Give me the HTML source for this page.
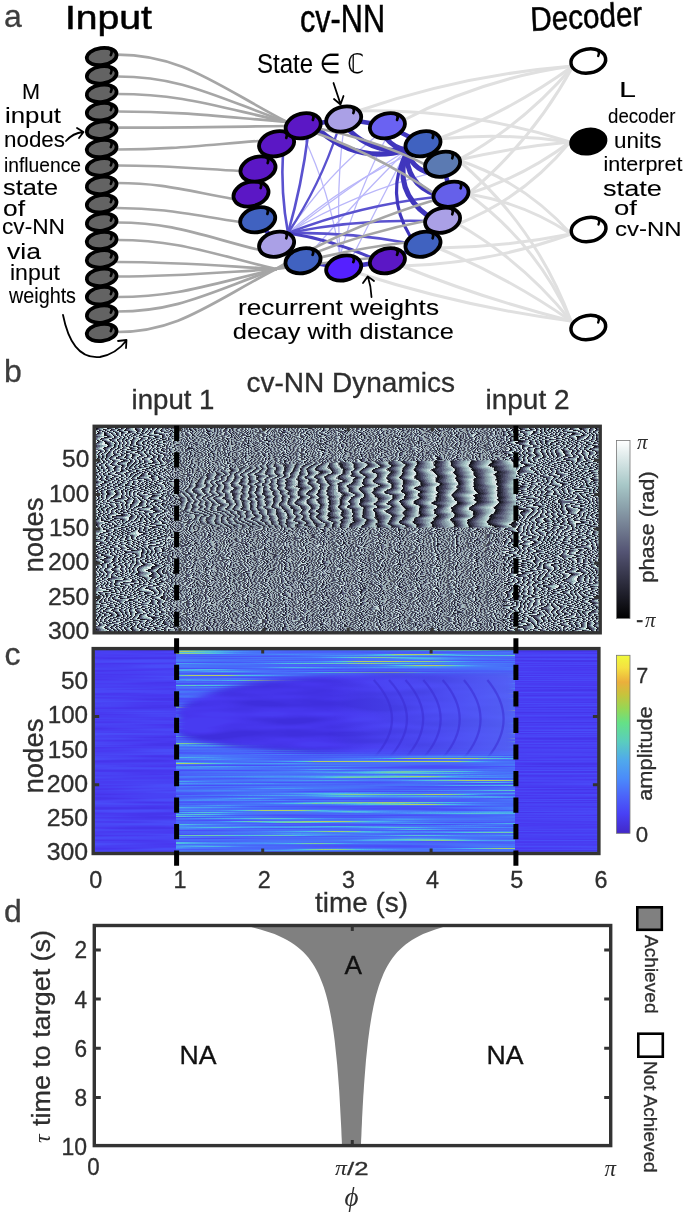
<!DOCTYPE html>
<html lang="en"><head><meta charset="utf-8"><title>cv-NN figure</title>
<style>html,body{margin:0;padding:0;background:#fff}body{width:685px;height:1213px;overflow:hidden}svg{display:block}</style>
</head><body>
<svg width="685" height="1213" viewBox="0 0 685 1213" font-family='"Liberation Sans", sans-serif'>
<rect width="685" height="1213" fill="#fff"/>
<defs>
<linearGradient id="gb" x1="0" y1="0" x2="0" y2="1"><stop offset="0%" stop-color="#ffffff"/><stop offset="6.2%" stop-color="#e9f1f1"/><stop offset="12.5%" stop-color="#d3e3e3"/><stop offset="18.8%" stop-color="#bdd5d5"/><stop offset="25%" stop-color="#a7c7c7"/><stop offset="31.2%" stop-color="#99b4b9"/><stop offset="37.5%" stop-color="#8ba1ab"/><stop offset="43.8%" stop-color="#7e8d9d"/><stop offset="50%" stop-color="#707a8f"/><stop offset="56.2%" stop-color="#626781"/><stop offset="62.5%" stop-color="#545474"/><stop offset="68.8%" stop-color="#464660"/><stop offset="75%" stop-color="#38384d"/><stop offset="81.2%" stop-color="#2a2a3a"/><stop offset="87.5%" stop-color="#1c1c27"/><stop offset="93.8%" stop-color="#0e0e13"/><stop offset="100%" stop-color="#000000"/></linearGradient>
<linearGradient id="gp" x1="0" y1="0" x2="0" y2="1"><stop offset="0%" stop-color="#f0fa3c"/><stop offset="7%" stop-color="#f5e141"/><stop offset="15%" stop-color="#ebaf3c"/><stop offset="22%" stop-color="#c8c33c"/><stop offset="30%" stop-color="#96d755"/><stop offset="38%" stop-color="#64e187"/><stop offset="48.5%" stop-color="#5acdbe"/><stop offset="58.6%" stop-color="#50aaeb"/><stop offset="69%" stop-color="#4b8cfa"/><stop offset="79%" stop-color="#4b64fa"/><stop offset="89%" stop-color="#4841f5"/><stop offset="100%" stop-color="#4228c8"/></linearGradient>
<linearGradient id="saw" x1="0" x2="1" y1="0" y2="0"><stop offset="0%" stop-color="#000000"/><stop offset="12.5%" stop-color="#1c1c27"/><stop offset="25%" stop-color="#38384d"/><stop offset="37.5%" stop-color="#545474"/><stop offset="50%" stop-color="#707a8f"/><stop offset="62.5%" stop-color="#8ba1ab"/><stop offset="75%" stop-color="#a7c7c7"/><stop offset="87.5%" stop-color="#d3e3e3"/><stop offset="100%" stop-color="#ffffff"/></linearGradient>
<pattern id="ps4" width="6" height="16" patternUnits="userSpaceOnUse"><rect width="6" height="16" fill="url(#saw)"/></pattern>
<pattern id="ps3" width="3.8" height="16" patternUnits="userSpaceOnUse"><rect width="3.8" height="16" fill="url(#saw)"/></pattern>
<filter id="dA" x="0" y="0" width="1" height="1" color-interpolation-filters="sRGB"><feTurbulence type="fractalNoise" baseFrequency="0.04 0.22" numOctaves="1" seed="2" result="n"/><feColorMatrix in="n" type="matrix" values="1 0 0 0 0 0 0 0 0 0.5 0 0 0 0 0.5 0 0 0 0 1" result="m"/><feDisplacementMap in="SourceGraphic" in2="m" scale="32" xChannelSelector="R" yChannelSelector="G"/></filter>
<filter id="dB" x="0" y="0" width="1" height="1" color-interpolation-filters="sRGB"><feTurbulence type="fractalNoise" baseFrequency="0.08 0.4" numOctaves="1" seed="7" result="n"/><feColorMatrix in="n" type="matrix" values="1 0 0 0 0 0 0 0 0 0.5 0 0 0 0 0.5 0 0 0 0 1" result="m"/><feDisplacementMap in="SourceGraphic" in2="m" scale="16" xChannelSelector="R" yChannelSelector="G"/></filter>
<filter id="wob" x="-0.02" y="-0.1" width="1.04" height="1.2" color-interpolation-filters="sRGB"><feTurbulence type="fractalNoise" baseFrequency="0.03 0.16" numOctaves="2" seed="5" result="n"/><feDisplacementMap in="SourceGraphic" in2="n" scale="16" xChannelSelector="R" yChannelSelector="G"/></filter>
<clipPath id="cb"><rect x="95.5" y="427.5" width="503.5" height="204.5"/></clipPath>
<clipPath id="cc"><rect x="94.5" y="649.5" width="503.5" height="203"/></clipPath>
<filter id="pa" x="0" y="0" width="1" height="1" color-interpolation-filters="sRGB"><feTurbulence type="fractalNoise" baseFrequency="0.008 0.3" numOctaves="2" seed="11"/><feColorMatrix type="matrix" values="1 0 0 0 0 1 0 0 0 0 1 0 0 0 0 0 0 0 0 1"/><feComponentTransfer><feFuncR type="table" tableValues="0.271 0.271 0.271 0.271 0.271 0.271 0.271 0.271 0.271 0.271 0.271 0.271 0.274 0.276 0.279 0.282 0.283 0.283 0.284 0.284 0.285 0.285 0.286 0.286 0.287 0.287 0.288 0.288 0.289 0.289 0.289 0.289 0.289 0.289 0.289 0.289 0.289 0.289 0.289 0.289 0.289"/><feFuncG type="table" tableValues="0.209 0.209 0.209 0.209 0.209 0.209 0.209 0.209 0.209 0.209 0.209 0.209 0.211 0.214 0.216 0.219 0.224 0.230 0.236 0.242 0.248 0.254 0.260 0.265 0.271 0.277 0.283 0.289 0.295 0.300 0.300 0.300 0.300 0.300 0.300 0.300 0.300 0.300 0.300 0.300 0.300"/><feFuncB type="table" tableValues="0.919 0.919 0.919 0.919 0.919 0.919 0.919 0.919 0.919 0.919 0.919 0.919 0.924 0.929 0.935 0.940 0.943 0.946 0.948 0.950 0.953 0.955 0.958 0.960 0.963 0.965 0.968 0.970 0.973 0.975 0.975 0.975 0.975 0.975 0.975 0.975 0.975 0.975 0.975 0.975 0.975"/></feComponentTransfer></filter>
<filter id="pb" x="0" y="0" width="1" height="1" color-interpolation-filters="sRGB"><feTurbulence type="fractalNoise" baseFrequency="0.004 0.6" numOctaves="3" seed="3"/><feColorMatrix type="matrix" values="1 0 0 0 0 1 0 0 0 0 1 0 0 0 0 0 0 0 0 1"/><feComponentTransfer><feFuncR type="table" tableValues="0.289 0.289 0.289 0.289 0.289 0.289 0.289 0.289 0.289 0.289 0.289 0.290 0.290 0.289 0.289 0.288 0.288 0.287 0.287 0.286 0.286 0.285 0.284 0.284 0.283 0.289 0.296 0.303 0.387 0.517 0.698 0.698 0.698 0.698 0.698 0.698 0.698 0.698 0.698 0.698 0.698"/><feFuncG type="table" tableValues="0.304 0.304 0.304 0.304 0.304 0.304 0.304 0.304 0.304 0.304 0.304 0.310 0.319 0.334 0.349 0.364 0.380 0.395 0.410 0.425 0.441 0.456 0.471 0.496 0.540 0.599 0.666 0.738 0.784 0.815 0.818 0.818 0.818 0.818 0.818 0.818 0.818 0.818 0.818 0.818 0.818"/><feFuncB type="table" tableValues="0.976 0.976 0.976 0.976 0.976 0.976 0.976 0.976 0.976 0.976 0.976 0.979 0.980 0.980 0.980 0.980 0.980 0.980 0.980 0.980 0.980 0.980 0.980 0.980 0.977 0.955 0.930 0.904 0.773 0.577 0.405 0.405 0.405 0.405 0.405 0.405 0.405 0.405 0.405 0.405 0.405"/></feComponentTransfer></filter>
<filter id="pd" x="0" y="0" width="1" height="1" color-interpolation-filters="sRGB"><feTurbulence type="fractalNoise" baseFrequency="0.012 0.1" numOctaves="2" seed="8"/><feColorMatrix type="matrix" values="1 0 0 0 0 1 0 0 0 0 1 0 0 0 0 0 0 0 0 1"/><feComponentTransfer><feFuncR type="table" tableValues="0.245 0.245 0.245 0.245 0.245 0.245 0.245 0.245 0.245 0.245 0.245 0.245 0.245 0.248 0.251 0.253 0.256 0.259 0.261 0.264 0.267 0.270 0.272 0.275 0.278 0.281 0.283 0.283 0.284 0.284 0.284 0.284 0.284 0.284 0.284 0.284 0.284 0.284 0.284 0.284 0.284"/><feFuncG type="table" tableValues="0.182 0.182 0.182 0.182 0.182 0.182 0.182 0.182 0.182 0.182 0.182 0.182 0.182 0.185 0.188 0.191 0.193 0.196 0.199 0.201 0.204 0.207 0.210 0.212 0.215 0.218 0.222 0.228 0.234 0.234 0.234 0.234 0.234 0.234 0.234 0.234 0.234 0.234 0.234 0.234 0.234"/><feFuncB type="table" tableValues="0.867 0.867 0.867 0.867 0.867 0.867 0.867 0.867 0.867 0.867 0.867 0.867 0.867 0.872 0.877 0.883 0.888 0.894 0.899 0.905 0.910 0.916 0.921 0.927 0.932 0.938 0.942 0.945 0.947 0.947 0.947 0.947 0.947 0.947 0.947 0.947 0.947 0.947 0.947 0.947 0.947"/></feComponentTransfer></filter>
<filter id="pe" x="0" y="0" width="1" height="1" color-interpolation-filters="sRGB"><feTurbulence type="fractalNoise" baseFrequency="0.004 0.8" numOctaves="2" seed="21"/><feColorMatrix type="matrix" values="1 0 0 0 0 1 0 0 0 0 1 0 0 0 0 0 0 0 0 1"/><feComponentTransfer><feFuncR type="table" tableValues="0.271 0.271 0.271 0.271 0.271 0.271 0.271 0.271 0.271 0.271 0.271 0.271 0.274 0.276 0.279 0.282 0.283 0.283 0.284 0.284 0.285 0.285 0.286 0.286 0.287 0.287 0.288 0.288 0.289 0.289 0.289 0.289 0.289 0.289 0.289 0.289 0.289 0.289 0.289 0.289 0.289"/><feFuncG type="table" tableValues="0.209 0.209 0.209 0.209 0.209 0.209 0.209 0.209 0.209 0.209 0.209 0.209 0.211 0.214 0.216 0.219 0.224 0.230 0.236 0.242 0.248 0.254 0.260 0.265 0.271 0.277 0.283 0.289 0.295 0.300 0.300 0.300 0.300 0.300 0.300 0.300 0.300 0.300 0.300 0.300 0.300"/><feFuncB type="table" tableValues="0.919 0.919 0.919 0.919 0.919 0.919 0.919 0.919 0.919 0.919 0.919 0.919 0.924 0.929 0.935 0.940 0.943 0.946 0.948 0.950 0.953 0.955 0.958 0.960 0.963 0.965 0.968 0.970 0.973 0.975 0.975 0.975 0.975 0.975 0.975 0.975 0.975 0.975 0.975 0.975 0.975"/></feComponentTransfer></filter>
</defs>
<g fill="none" stroke-linecap="round">
<g stroke="#a6a6a6" stroke-width="2.7">
<path d="M117 54.6 C 182.2 54.6 216 84.9 287 122"/>
<path d="M117 76.5 C 182.2 76.5 216 97 287 122"/>
<path d="M117 94 C 182.2 94 216 106.6 287 122"/>
<path d="M117 111.5 C 182.2 111.5 216 116.2 287 122"/>
<path d="M117 127.6 C 182.2 127.6 216 126.9 287 126"/>
<path d="M117 149.5 C 171.2 149.5 199.2 145.7 258 141"/>
<path d="M117 165.5 C 164.4 165.5 188.8 168 240 171"/>
<path d="M117 183 C 161.7 183 184.7 190.2 233 199"/>
<path d="M117 208 C 164.4 208 188.8 214.3 240 222"/>
<path d="M117 222.5 C 171.6 222.5 199.8 234.9 259 250"/>
<path d="M117 240 C 178 240 209.6 253.1 276 269"/>
<path d="M117 262 C 178 262 209.6 265.1 276 269"/>
<path d="M117 276.5 C 178 276.5 209.6 273.1 276 269"/>
<path d="M117 297 C 178 297 209.6 284.4 276 269"/>
<path d="M117 311.5 C 178 311.5 209.6 292.4 276 269"/>
<path d="M117 332 C 178 332 209.6 303.6 276 269"/>
</g>
<g stroke="#e0e0e0" stroke-width="3">
<path d="M358 111 Q 462.6 74.8 573 66"/>
<path d="M402 121 Q 482.6 78.3 573 66"/>
<path d="M438 139 Q 510.3 111.3 573 66"/>
<path d="M458 160 Q 524.4 123.8 573 66"/>
<path d="M468 194 Q 532.9 140.1 573 66"/>
<path d="M358 111 Q 466.6 108.7 570 142"/>
<path d="M438 139 Q 504.2 132.5 570 142"/>
<path d="M458 160 Q 513.4 147.1 570 142"/>
<path d="M468 194 Q 523.5 176.9 570 142"/>
<path d="M458 224 Q 524.6 197.5 570 142"/>
<path d="M458 160 Q 524.4 181.9 571 234"/>
<path d="M468 194 Q 523.8 202.8 571 234"/>
<path d="M438 248 Q 505.1 247 571 234"/>
<path d="M402 266 Q 489.1 263.8 571 234"/>
<path d="M458 160 Q 535.8 225.6 571 321"/>
<path d="M468 194 Q 536.6 243.6 571 321"/>
<path d="M458 224 Q 523.6 261.9 571 321"/>
<path d="M438 248 Q 508.3 277.5 571 321"/>
<path d="M402 266 Q 484.6 299.2 571 321"/>
<path d="M358 273 Q 462.3 306.8 571 321"/>
</g>
<path d="M343.7 119 L387.4 125.8 L423 143.8 L442.6 164.2 L451 194.2 L442.6 220.2 L423 244.2 L387.4 260.7 L343.7 268 L303 260.7 L276.6 244.2 L257.7 219.8 L251 194 L258 169 L276.6 143.8 L303.2 125.8Z" stroke="#4036bd" stroke-width="4.5" stroke-linejoin="round"/>
<g stroke="#b9b6fa" stroke-width="1.3">
<path d="M288 233 Q 327.7 173.4 379.4 133.8"/>
<path d="M288 233 Q 345.5 182.4 415 151.8"/>
<path d="M288 233 Q 355.3 192.6 434.6 172.2"/>
<path d="M407 150 Q 381.4 199 349.7 262"/>
<path d="M407 150 Q 361 195.3 309 254.7"/>
<path d="M407 150 Q 347.8 187.1 282.6 238.2"/>
<path d="M340 256 Q 329.6 190.9 303.2 135.8"/>
<path d="M340 256 Q 335.9 187.5 343.7 129"/>
<path d="M340 256 Q 357.7 190.9 387.4 135.8"/>
</g>
<g stroke="#5a52cf">
<path d="M288 233 Q 280.5 192.8 283 152" stroke-width="2.6"/>
<path d="M288 233 Q 301.9 184.8 308 135" stroke-width="2.6"/>
<path d="M288 233 Q 320.2 185 338 130" stroke-width="2.4"/>
<path d="M288 233 Q 359.6 205.3 436 197" stroke-width="2.6"/>
<path d="M288 233 Q 357.3 219 428 221" stroke-width="2.6"/>
<path d="M288 233 Q 348.5 232 408 243" stroke-width="2.6"/>
<path d="M288 233 Q 331.7 239.7 372 258" stroke-width="3.2" stroke="#4a40c4"/>
</g>
<g stroke="#4036bd">
<path d="M407 150 Q 394 148.3 386 138" stroke-width="5"/>
<path d="M407 150 Q 374.1 153.8 350 131" stroke-width="5"/>
<path d="M407 150 Q 358.4 163.9 320 131" stroke-width="5"/>
<path d="M407 150 Q 411.4 168.6 430 173" stroke-width="5"/>
<path d="M407 150 Q 404.7 183.3 436 195" stroke-width="5"/>
<path d="M407 150 Q 392.7 190.9 428 216" stroke-width="5"/>
<path d="M407 150 Q 384.5 193.8 410 236" stroke-width="3.2"/>
</g>
<g stroke="#a6a6a6" stroke-width="2.7">
<path d="M287 123 Q 370 135 432 168"/>
<path d="M287 123 Q 372 150 438 196"/>
<path d="M276 269 Q 350 225 438 199"/>
<path d="M276 269 Q 350 235 430 220"/>
<path d="M276 269 Q 340 250 410 242"/>
<path d="M276 269 Q 330 262 372 258"/>
</g>
</g>
<g transform="translate(343.7 119) rotate(-14)"><ellipse rx="17.8" ry="12.2" fill="#aaa0e6" stroke="#000" stroke-width="3.8"/><path d="M9.8 -10.4 q4 3 1 7" fill="none" stroke="#000" stroke-width="2.7" stroke-linecap="round"/></g>
<g transform="translate(387.4 125.8) rotate(-14)"><ellipse rx="17.8" ry="12.2" fill="#6a62f2" stroke="#000" stroke-width="3.8"/><path d="M9.8 -10.4 q4 3 1 7" fill="none" stroke="#000" stroke-width="2.7" stroke-linecap="round"/></g>
<g transform="translate(423 143.8) rotate(-14)"><ellipse rx="17.8" ry="12.2" fill="#4062c0" stroke="#000" stroke-width="3.8"/><path d="M9.8 -10.4 q4 3 1 7" fill="none" stroke="#000" stroke-width="2.7" stroke-linecap="round"/></g>
<g transform="translate(442.6 164.2) rotate(-14)"><ellipse rx="17.8" ry="12.2" fill="#5b7ab2" stroke="#000" stroke-width="3.8"/><path d="M9.8 -10.4 q4 3 1 7" fill="none" stroke="#000" stroke-width="2.7" stroke-linecap="round"/></g>
<g transform="translate(451 194.2) rotate(-14)"><ellipse rx="17.8" ry="12.2" fill="#6560ea" stroke="#000" stroke-width="3.8"/><path d="M9.8 -10.4 q4 3 1 7" fill="none" stroke="#000" stroke-width="2.7" stroke-linecap="round"/></g>
<g transform="translate(442.6 220.2) rotate(-14)"><ellipse rx="17.8" ry="12.2" fill="#aaa0e6" stroke="#000" stroke-width="3.8"/><path d="M9.8 -10.4 q4 3 1 7" fill="none" stroke="#000" stroke-width="2.7" stroke-linecap="round"/></g>
<g transform="translate(423 244.2) rotate(-14)"><ellipse rx="17.8" ry="12.2" fill="#4062c0" stroke="#000" stroke-width="3.8"/><path d="M9.8 -10.4 q4 3 1 7" fill="none" stroke="#000" stroke-width="2.7" stroke-linecap="round"/></g>
<g transform="translate(387.4 260.7) rotate(-14)"><ellipse rx="17.8" ry="12.2" fill="#5b17c5" stroke="#000" stroke-width="3.8"/><path d="M9.8 -10.4 q4 3 1 7" fill="none" stroke="#000" stroke-width="2.7" stroke-linecap="round"/></g>
<g transform="translate(343.7 268) rotate(-14)"><ellipse rx="17.8" ry="12.2" fill="#5520ff" stroke="#000" stroke-width="3.8"/><path d="M9.8 -10.4 q4 3 1 7" fill="none" stroke="#000" stroke-width="2.7" stroke-linecap="round"/></g>
<g transform="translate(303 260.7) rotate(-14)"><ellipse rx="17.8" ry="12.2" fill="#4062c0" stroke="#000" stroke-width="3.8"/><path d="M9.8 -10.4 q4 3 1 7" fill="none" stroke="#000" stroke-width="2.7" stroke-linecap="round"/></g>
<g transform="translate(276.6 244.2) rotate(-14)"><ellipse rx="17.8" ry="12.2" fill="#aaa0e6" stroke="#000" stroke-width="3.8"/><path d="M9.8 -10.4 q4 3 1 7" fill="none" stroke="#000" stroke-width="2.7" stroke-linecap="round"/></g>
<g transform="translate(257.7 219.8) rotate(-14)"><ellipse rx="17.8" ry="12.2" fill="#4062c0" stroke="#000" stroke-width="3.8"/><path d="M9.8 -10.4 q4 3 1 7" fill="none" stroke="#000" stroke-width="2.7" stroke-linecap="round"/></g>
<g transform="translate(251 194) rotate(-14)"><ellipse rx="17.8" ry="12.2" fill="#5b17c5" stroke="#000" stroke-width="3.8"/><path d="M9.8 -10.4 q4 3 1 7" fill="none" stroke="#000" stroke-width="2.7" stroke-linecap="round"/></g>
<g transform="translate(258 169) rotate(-14)"><ellipse rx="17.8" ry="12.2" fill="#5b17c5" stroke="#000" stroke-width="3.8"/><path d="M9.8 -10.4 q4 3 1 7" fill="none" stroke="#000" stroke-width="2.7" stroke-linecap="round"/></g>
<g transform="translate(276.6 143.8) rotate(-14)"><ellipse rx="17.8" ry="12.2" fill="#5b17c5" stroke="#000" stroke-width="3.8"/><path d="M9.8 -10.4 q4 3 1 7" fill="none" stroke="#000" stroke-width="2.7" stroke-linecap="round"/></g>
<g transform="translate(303.2 125.8) rotate(-14)"><ellipse rx="17.8" ry="12.2" fill="#5b17c5" stroke="#000" stroke-width="3.8"/><path d="M9.8 -10.4 q4 3 1 7" fill="none" stroke="#000" stroke-width="2.7" stroke-linecap="round"/></g>
<g transform="translate(101.7 56.5) rotate(-8)"><ellipse rx="15" ry="8.5" fill="#636363" stroke="#000" stroke-width="3.7"/><path d="M8.2 -7.2 q4 3 1 7" fill="none" stroke="#000" stroke-width="2.6" stroke-linecap="round"/></g>
<g transform="translate(101.7 74.9) rotate(-8)"><ellipse rx="15" ry="8.5" fill="#636363" stroke="#000" stroke-width="3.7"/><path d="M8.2 -7.2 q4 3 1 7" fill="none" stroke="#000" stroke-width="2.6" stroke-linecap="round"/></g>
<g transform="translate(101.7 93.3) rotate(-8)"><ellipse rx="15" ry="8.5" fill="#636363" stroke="#000" stroke-width="3.7"/><path d="M8.2 -7.2 q4 3 1 7" fill="none" stroke="#000" stroke-width="2.6" stroke-linecap="round"/></g>
<g transform="translate(101.7 111.7) rotate(-8)"><ellipse rx="15" ry="8.5" fill="#636363" stroke="#000" stroke-width="3.7"/><path d="M8.2 -7.2 q4 3 1 7" fill="none" stroke="#000" stroke-width="2.6" stroke-linecap="round"/></g>
<g transform="translate(101.7 130.1) rotate(-8)"><ellipse rx="15" ry="8.5" fill="#636363" stroke="#000" stroke-width="3.7"/><path d="M8.2 -7.2 q4 3 1 7" fill="none" stroke="#000" stroke-width="2.6" stroke-linecap="round"/></g>
<g transform="translate(101.7 148.5) rotate(-8)"><ellipse rx="15" ry="8.5" fill="#636363" stroke="#000" stroke-width="3.7"/><path d="M8.2 -7.2 q4 3 1 7" fill="none" stroke="#000" stroke-width="2.6" stroke-linecap="round"/></g>
<g transform="translate(101.7 166.9) rotate(-8)"><ellipse rx="15" ry="8.5" fill="#636363" stroke="#000" stroke-width="3.7"/><path d="M8.2 -7.2 q4 3 1 7" fill="none" stroke="#000" stroke-width="2.6" stroke-linecap="round"/></g>
<g transform="translate(101.7 185.3) rotate(-8)"><ellipse rx="15" ry="8.5" fill="#636363" stroke="#000" stroke-width="3.7"/><path d="M8.2 -7.2 q4 3 1 7" fill="none" stroke="#000" stroke-width="2.6" stroke-linecap="round"/></g>
<g transform="translate(101.7 203.7) rotate(-8)"><ellipse rx="15" ry="8.5" fill="#636363" stroke="#000" stroke-width="3.7"/><path d="M8.2 -7.2 q4 3 1 7" fill="none" stroke="#000" stroke-width="2.6" stroke-linecap="round"/></g>
<g transform="translate(101.7 222.1) rotate(-8)"><ellipse rx="15" ry="8.5" fill="#636363" stroke="#000" stroke-width="3.7"/><path d="M8.2 -7.2 q4 3 1 7" fill="none" stroke="#000" stroke-width="2.6" stroke-linecap="round"/></g>
<g transform="translate(101.7 240.5) rotate(-8)"><ellipse rx="15" ry="8.5" fill="#636363" stroke="#000" stroke-width="3.7"/><path d="M8.2 -7.2 q4 3 1 7" fill="none" stroke="#000" stroke-width="2.6" stroke-linecap="round"/></g>
<g transform="translate(101.7 258.9) rotate(-8)"><ellipse rx="15" ry="8.5" fill="#636363" stroke="#000" stroke-width="3.7"/><path d="M8.2 -7.2 q4 3 1 7" fill="none" stroke="#000" stroke-width="2.6" stroke-linecap="round"/></g>
<g transform="translate(101.7 277.3) rotate(-8)"><ellipse rx="15" ry="8.5" fill="#636363" stroke="#000" stroke-width="3.7"/><path d="M8.2 -7.2 q4 3 1 7" fill="none" stroke="#000" stroke-width="2.6" stroke-linecap="round"/></g>
<g transform="translate(101.7 295.7) rotate(-8)"><ellipse rx="15" ry="8.5" fill="#636363" stroke="#000" stroke-width="3.7"/><path d="M8.2 -7.2 q4 3 1 7" fill="none" stroke="#000" stroke-width="2.6" stroke-linecap="round"/></g>
<g transform="translate(101.7 314.1) rotate(-8)"><ellipse rx="15" ry="8.5" fill="#636363" stroke="#000" stroke-width="3.7"/><path d="M8.2 -7.2 q4 3 1 7" fill="none" stroke="#000" stroke-width="2.6" stroke-linecap="round"/></g>
<g transform="translate(101.7 332.5) rotate(-8)"><ellipse rx="15" ry="8.5" fill="#636363" stroke="#000" stroke-width="3.7"/><path d="M8.2 -7.2 q4 3 1 7" fill="none" stroke="#000" stroke-width="2.6" stroke-linecap="round"/></g>
<g transform="translate(588.3 61) rotate(-10)"><ellipse rx="17.5" ry="12" fill="#fff" stroke="#000" stroke-width="3.5"/><path d="M9.6 -10.2 q4 3 1 7" fill="none" stroke="#000" stroke-width="2.4" stroke-linecap="round"/></g>
<g transform="translate(588.3 141.6) rotate(-10)"><ellipse rx="17.5" ry="12" fill="#000" stroke="#000" stroke-width="3.5"/></g>
<g transform="translate(588.6 229.5) rotate(-10)"><ellipse rx="17.5" ry="12" fill="#fff" stroke="#000" stroke-width="3.5"/><path d="M9.6 -10.2 q4 3 1 7" fill="none" stroke="#000" stroke-width="2.4" stroke-linecap="round"/></g>
<g transform="translate(588.3 327.5) rotate(-10)"><ellipse rx="17.5" ry="12" fill="#fff" stroke="#000" stroke-width="3.5"/><path d="M9.6 -10.2 q4 3 1 7" fill="none" stroke="#000" stroke-width="2.4" stroke-linecap="round"/></g>
<g fill="none" stroke="#000" stroke-width="1.8" stroke-linecap="round" stroke-linejoin="round">
<path d="M66 141 Q 73 133 83 132 M77 128 L83.5 132 L79 138"/>
<path d="M63 315 Q 72 360 100 357 Q 116 354 126 341 M118 341 L126.5 340 L126 348"/>
<path d="M333.5 83 L340.5 104 M334 99 L340.5 104.5 L343.5 96"/>
<path d="M371.5 297 Q 371 286 368 277 M363 283 L367.8 276.4 L374 281"/>
</g>
<text x="65" y="29" font-size="33" textLength="87" lengthAdjust="spacingAndGlyphs" fill="#000" stroke="#000" stroke-width="0.5">Input</text>
<text x="300" y="31.5" font-size="38" textLength="85" lengthAdjust="spacingAndGlyphs" fill="#000" stroke="#000" stroke-width="0.5">cv-NN</text>
<text transform="translate(531 31) rotate(-3)" x="0" y="0" font-size="34" textLength="112" lengthAdjust="spacingAndGlyphs" fill="#000" stroke="#000" stroke-width="0.5">Decoder</text>
<text x="257" y="72.5" font-size="27" textLength="107" lengthAdjust="spacingAndGlyphs" fill="#000" font-family='"Liberation Sans", "DejaVu Sans", sans-serif' stroke="#000" stroke-width="0.1">State ∈ ℂ</text>
<text x="22" y="99" font-size="22" textLength="18" lengthAdjust="spacingAndGlyphs" fill="#000" stroke="#000" stroke-width="0.1">M</text>
<text x="5" y="123" font-size="22" textLength="56" lengthAdjust="spacingAndGlyphs" fill="#000" stroke="#000" stroke-width="0.1">input</text>
<text x="4" y="147" font-size="22" textLength="61" lengthAdjust="spacingAndGlyphs" fill="#000" stroke="#000" stroke-width="0.1">nodes</text>
<text x="4" y="172" font-size="21" textLength="77" lengthAdjust="spacingAndGlyphs" fill="#000" stroke="#000" stroke-width="0.1">influence</text>
<text x="3" y="195" font-size="22" textLength="55" lengthAdjust="spacingAndGlyphs" fill="#000" stroke="#000" stroke-width="0.1">state</text>
<text x="3" y="216" font-size="22" textLength="22" lengthAdjust="spacingAndGlyphs" fill="#000" stroke="#000" stroke-width="0.1">of</text>
<text x="2" y="234" font-size="22" textLength="63" lengthAdjust="spacingAndGlyphs" fill="#000" stroke="#000" stroke-width="0.1">cv-NN</text>
<text x="7" y="259" font-size="22" textLength="34" lengthAdjust="spacingAndGlyphs" fill="#000" stroke="#000" stroke-width="0.1">via</text>
<text x="10" y="280" font-size="22" textLength="50" lengthAdjust="spacingAndGlyphs" fill="#000" stroke="#000" stroke-width="0.1">input</text>
<text x="9" y="303" font-size="22" textLength="67" lengthAdjust="spacingAndGlyphs" fill="#000" stroke="#000" stroke-width="0.1">weights</text>
<text x="619" y="97" font-size="22" textLength="17" lengthAdjust="spacingAndGlyphs" fill="#000" stroke="#000" stroke-width="0.1">L</text>
<text x="608" y="123" font-size="21" textLength="67.5" lengthAdjust="spacingAndGlyphs" fill="#000" stroke="#000" stroke-width="0.1">decoder</text>
<text x="614" y="148" font-size="22" textLength="47.5" lengthAdjust="spacingAndGlyphs" fill="#000" stroke="#000" stroke-width="0.1">units</text>
<text x="603.5" y="171" font-size="21" textLength="79" lengthAdjust="spacingAndGlyphs" fill="#000" stroke="#000" stroke-width="0.1">interpret</text>
<text x="603" y="196" font-size="22" textLength="59" lengthAdjust="spacingAndGlyphs" fill="#000" stroke="#000" stroke-width="0.1">state</text>
<text x="614" y="215" font-size="21" textLength="23" lengthAdjust="spacingAndGlyphs" fill="#000" stroke="#000" stroke-width="0.1">of</text>
<text x="615" y="235.5" font-size="21" textLength="66.5" lengthAdjust="spacingAndGlyphs" fill="#000" stroke="#000" stroke-width="0.1">cv-NN</text>
<text x="238" y="314.7" font-size="22" textLength="201" lengthAdjust="spacingAndGlyphs" fill="#000" stroke="#000" stroke-width="0.1">recurrent weights</text>
<text x="232.8" y="338.5" font-size="22" textLength="221" lengthAdjust="spacingAndGlyphs" fill="#000" stroke="#000" stroke-width="0.1">decay with distance</text>
<text x="4" y="26.8" font-size="32" fill="#3d3d3d" stroke="#3d3d3d" stroke-width="0.3">a</text>
<text x="4" y="381.8" font-size="32" fill="#3d3d3d" stroke="#3d3d3d" stroke-width="0.3">b</text>
<text x="4.4" y="664.6" font-size="32" fill="#3d3d3d" stroke="#3d3d3d" stroke-width="0.3">c</text>
<text x="4" y="922.2" font-size="32" fill="#3d3d3d" stroke="#3d3d3d" stroke-width="0.3">d</text>
<g clip-path="url(#cb)">
<rect x="95" y="427" width="504" height="205" fill="#78828e"/>
<rect x="80" y="420" width="110" height="220" fill="url(#ps4)" filter="url(#dA)"/>
<rect x="165" y="420" width="365" height="220" fill="url(#ps3)" filter="url(#dB)"/>
<rect x="503" y="420" width="110" height="220" fill="url(#ps4)" filter="url(#dA)"/>
<clipPath id="cw"><path d="M177 497.5 L181 492.7 L185 488.6 L189 485.1 L193 482.2 L197 479.7 L201 477.6 L205 475.8 L209 474.2 L213 472.9 L217 471.8 L221 470.8 L225 469.9 L229 469.2 L233 468.5 L237 467.9 L241 467.4 L245 467 L249 466.6 L253 466.2 L257 465.9 L261 465.6 L265 465.3 L269 465 L273 464.8 L277 464.6 L281 464.4 L285 464.2 L289 464 L293 463.8 L297 463.7 L301 463.5 L305 463.4 L309 463.2 L313 463.1 L317 463 L321 462.9 L325 462.7 L329 462.6 L333 462.5 L337 462.4 L341 462.3 L345 462.2 L349 462.1 L353 462 L357 462 L361 461.9 L365 461.8 L369 461.7 L373 461.7 L377 461.6 L381 461.5 L385 461.4 L389 461.4 L393 461.3 L397 461.3 L401 461.2 L405 461.1 L409 461.1 L413 461 L417 461 L421 460.9 L425 460.9 L429 460.8 L433 460.8 L437 460.8 L441 460.7 L445 460.7 L449 460.6 L453 460.6 L457 460.6 L461 460.5 L465 460.5 L469 460.5 L473 460.4 L477 460.4 L481 460.4 L485 460.3 L489 460.3 L493 460.3 L497 460.3 L501 460.2 L505 460.2 L509 460.2 L513 460.2 L516 460.2 L516 527.5 L513 527.5 L509 527.5 L505 527.5 L501 527.5 L497 527.5 L493 527.5 L489 527.5 L485 527.5 L481 527.5 L477 527.5 L473 527.5 L469 527.5 L465 527.5 L461 527.5 L457 527.5 L453 527.5 L449 527.5 L445 527.5 L441 527.5 L437 527.5 L433 527.5 L429 527.5 L425 527.5 L421 527.5 L417 527.5 L413 527.5 L409 527.5 L405 527.5 L401 527.5 L397 527.5 L393 527.5 L389 527.5 L385 527.5 L381 527.5 L377 527.5 L373 527.5 L369 527.5 L365 527.5 L361 527.5 L357 527.5 L353 527.5 L349 527.5 L345 527.5 L341 527.5 L337 527.5 L333 527.5 L329 527.5 L325 527.5 L321 527.5 L317 527.5 L313 527.5 L309 527.5 L305 527.5 L301 527.5 L297 527.5 L293 527.5 L289 527.5 L285 527.5 L281 527.5 L277 527.5 L273 527.5 L269 527.5 L265 527.5 L261 527.5 L257 527.5 L253 527.4 L249 527.4 L245 527.4 L241 527.4 L237 527.3 L233 527.2 L229 527.1 L225 527 L221 526.7 L217 526.4 L213 526 L209 525.4 L205 524.6 L201 523.4 L197 521.8 L193 519.6 L189 516.5 L185 512.1 L181 506 L177 497.5Z"/></clipPath>
<g clip-path="url(#cw)"><g filter="url(#wob)">
<rect x="170" y="450" width="352" height="92" fill="#6b7683"/>
<path d="M166 449 Q114 491 166 533 H167.7 Q115.7 491 167.7 449Z" fill="#1c1c26"/>
<path d="M167.4 449 Q115.4 491 167.4 533 H169.1 Q117.1 491 169.1 449Z" fill="#464660"/>
<path d="M168.8 449 Q116.8 491 168.8 533 H170.5 Q118.5 491 170.5 449Z" fill="#707a8f"/>
<path d="M170.2 449 Q118.2 491 170.2 533 H171.9 Q119.9 491 171.9 449Z" fill="#9ab4b9"/>
<path d="M171.6 449 Q119.6 491 171.6 533 H173.3 Q121.3 491 173.3 449Z" fill="#d4e3e3"/>
<path d="M173 449 Q121 491 173 533 H174.7 Q122.7 491 174.7 449Z" fill="#1c1c26"/>
<path d="M174.4 449 Q122.4 491 174.4 533 H176.1 Q124.1 491 176.1 449Z" fill="#464660"/>
<path d="M175.8 449 Q123.8 491 175.8 533 H177.5 Q125.5 491 177.5 449Z" fill="#707a8f"/>
<path d="M177.2 449 Q125.2 491 177.2 533 H178.9 Q126.9 491 178.9 449Z" fill="#9ab4b9"/>
<path d="M178.6 449 Q126.6 491 178.6 533 H180.3 Q128.3 491 180.3 449Z" fill="#d4e3e3"/>
<path d="M180 449 Q128 491 180 533 H181.7 Q129.7 491 181.7 449Z" fill="#1c1c26"/>
<path d="M181.4 449 Q129.4 491 181.4 533 H183.1 Q131.1 491 183.1 449Z" fill="#464660"/>
<path d="M182.8 449 Q130.8 491 182.8 533 H184.5 Q132.5 491 184.5 449Z" fill="#707a8f"/>
<path d="M184.2 449 Q132.2 491 184.2 533 H185.9 Q133.9 491 185.9 449Z" fill="#9ab4b9"/>
<path d="M185.6 449 Q133.6 491 185.6 533 H187.3 Q135.3 491 187.3 449Z" fill="#d4e3e3"/>
<path d="M187 449 Q135 491 187 533 H188.7 Q136.7 491 188.7 449Z" fill="#1c1c26"/>
<path d="M188.4 449 Q136.4 491 188.4 533 H190.1 Q138.1 491 190.1 449Z" fill="#464660"/>
<path d="M189.8 449 Q137.8 491 189.8 533 H191.5 Q139.5 491 191.5 449Z" fill="#707a8f"/>
<path d="M191.2 449 Q139.2 491 191.2 533 H192.9 Q140.9 491 192.9 449Z" fill="#9ab4b9"/>
<path d="M192.6 449 Q140.6 491 192.6 533 H194.3 Q142.3 491 194.3 449Z" fill="#d4e3e3"/>
<path d="M194 449 Q142 491 194 533 H195.7 Q143.7 491 195.7 449Z" fill="#1c1c26"/>
<path d="M195.4 449 Q143.4 491 195.4 533 H197.1 Q145.1 491 197.1 449Z" fill="#464660"/>
<path d="M196.8 449 Q144.8 491 196.8 533 H198.5 Q146.5 491 198.5 449Z" fill="#707a8f"/>
<path d="M198.2 449 Q146.2 491 198.2 533 H199.9 Q147.9 491 199.9 449Z" fill="#9ab4b9"/>
<path d="M199.6 449 Q147.6 491 199.6 533 H201.3 Q149.3 491 201.3 449Z" fill="#d4e3e3"/>
<path d="M201 449 Q149 491 201 533 H202.7 Q150.7 491 202.7 449Z" fill="#1c1c26"/>
<path d="M202.4 449 Q150.4 491 202.4 533 H204.1 Q152.1 491 204.1 449Z" fill="#464660"/>
<path d="M203.8 449 Q151.8 491 203.8 533 H205.5 Q153.5 491 205.5 449Z" fill="#707a8f"/>
<path d="M205.2 449 Q153.2 491 205.2 533 H206.9 Q154.9 491 206.9 449Z" fill="#9ab4b9"/>
<path d="M206.6 449 Q154.6 491 206.6 533 H208.3 Q156.3 491 208.3 449Z" fill="#d4e3e3"/>
<path d="M207.6 449 Q156.4 491 207.6 533 H209.3 Q158.1 491 209.3 449Z" fill="#1c1c26"/>
<path d="M209 449 Q157.8 491 209 533 H210.7 Q159.5 491 210.7 449Z" fill="#464660"/>
<path d="M210.4 449 Q159.2 491 210.4 533 H212.1 Q160.9 491 212.1 449Z" fill="#707a8f"/>
<path d="M211.8 449 Q160.6 491 211.8 533 H213.5 Q162.3 491 213.5 449Z" fill="#9ab4b9"/>
<path d="M213.2 449 Q162 491 213.2 533 H214.9 Q163.7 491 214.9 449Z" fill="#d4e3e3"/>
<path d="M213.8 449 Q164.2 491 213.8 533 H215.5 Q166 491 215.5 449Z" fill="#1c1c26"/>
<path d="M215.2 449 Q165.7 491 215.2 533 H216.9 Q167.4 491 216.9 449Z" fill="#464660"/>
<path d="M216.6 449 Q167.1 491 216.6 533 H218.3 Q168.8 491 218.3 449Z" fill="#707a8f"/>
<path d="M218 449 Q168.5 491 218 533 H219.7 Q170.2 491 219.7 449Z" fill="#9ab4b9"/>
<path d="M219.4 449 Q169.9 491 219.4 533 H221.1 Q171.6 491 221.1 449Z" fill="#d4e3e3"/>
<path d="M219.9 449 Q172.1 491 219.9 533 H221.6 Q173.9 491 221.6 449Z" fill="#1c1c26"/>
<path d="M221.3 449 Q173.6 491 221.3 533 H223 Q175.3 491 223 449Z" fill="#464660"/>
<path d="M222.7 449 Q175 491 222.7 533 H224.4 Q176.7 491 224.4 449Z" fill="#707a8f"/>
<path d="M224.1 449 Q176.4 491 224.1 533 H225.8 Q178.1 491 225.8 449Z" fill="#9ab4b9"/>
<path d="M225.5 449 Q177.8 491 225.5 533 H227.2 Q179.5 491 227.2 449Z" fill="#d4e3e3"/>
<path d="M226.1 449 Q180.1 491 226.1 533 H227.8 Q181.8 491 227.8 449Z" fill="#1c1c26"/>
<path d="M227.5 449 Q181.5 491 227.5 533 H229.2 Q183.2 491 229.2 449Z" fill="#464660"/>
<path d="M228.9 449 Q182.9 491 228.9 533 H230.6 Q184.6 491 230.6 449Z" fill="#707a8f"/>
<path d="M230.3 449 Q184.3 491 230.3 533 H232.1 Q186.1 491 232.1 449Z" fill="#9ab4b9"/>
<path d="M231.8 449 Q185.8 491 231.8 533 H233.5 Q187.5 491 233.5 449Z" fill="#d4e3e3"/>
<path d="M232.3 449 Q188.1 491 232.3 533 H234 Q189.8 491 234 449Z" fill="#1c1c26"/>
<path d="M233.7 449 Q189.5 491 233.7 533 H235.5 Q191.2 491 235.5 449Z" fill="#464660"/>
<path d="M235.2 449 Q190.9 491 235.2 533 H236.9 Q192.7 491 236.9 449Z" fill="#707a8f"/>
<path d="M236.6 449 Q192.4 491 236.6 533 H238.3 Q194.1 491 238.3 449Z" fill="#9ab4b9"/>
<path d="M238 449 Q193.8 491 238 533 H239.8 Q195.5 491 239.8 449Z" fill="#d4e3e3"/>
<path d="M238.6 449 Q196.1 491 238.6 533 H240.3 Q197.9 491 240.3 449Z" fill="#1c1c26"/>
<path d="M240 449 Q197.6 491 240 533 H241.8 Q199.3 491 241.8 449Z" fill="#464660"/>
<path d="M241.5 449 Q199 491 241.5 533 H243.2 Q200.8 491 243.2 449Z" fill="#707a8f"/>
<path d="M242.9 449 Q200.5 491 242.9 533 H244.7 Q202.2 491 244.7 449Z" fill="#9ab4b9"/>
<path d="M244.4 449 Q201.9 491 244.4 533 H246.1 Q203.7 491 246.1 449Z" fill="#d4e3e3"/>
<path d="M244.9 449 Q204.3 491 244.9 533 H246.7 Q206.1 491 246.7 449Z" fill="#1c1c26"/>
<path d="M246.4 449 Q205.8 491 246.4 533 H248.2 Q207.5 491 248.2 449Z" fill="#464660"/>
<path d="M247.9 449 Q207.2 491 247.9 533 H249.6 Q209 491 249.6 449Z" fill="#707a8f"/>
<path d="M249.3 449 Q208.7 491 249.3 533 H251.1 Q210.5 491 251.1 449Z" fill="#9ab4b9"/>
<path d="M250.8 449 Q210.2 491 250.8 533 H252.6 Q212 491 252.6 449Z" fill="#d4e3e3"/>
<path d="M251.4 449 Q212.6 491 251.4 533 H253.2 Q214.4 491 253.2 449Z" fill="#1c1c26"/>
<path d="M252.9 449 Q214.1 491 252.9 533 H254.7 Q215.9 491 254.7 449Z" fill="#464660"/>
<path d="M254.4 449 Q215.6 491 254.4 533 H256.2 Q217.4 491 256.2 449Z" fill="#707a8f"/>
<path d="M255.9 449 Q217.1 491 255.9 533 H257.7 Q218.9 491 257.7 449Z" fill="#9ab4b9"/>
<path d="M257.4 449 Q218.6 491 257.4 533 H259.2 Q220.4 491 259.2 449Z" fill="#d4e3e3"/>
<path d="M257.9 449 Q221 491 257.9 533 H259.8 Q222.8 491 259.8 449Z" fill="#1c1c26"/>
<path d="M259.5 449 Q222.5 491 259.5 533 H261.3 Q224.4 491 261.3 449Z" fill="#464660"/>
<path d="M261 449 Q224.1 491 261 533 H262.8 Q225.9 491 262.8 449Z" fill="#707a8f"/>
<path d="M262.5 449 Q225.6 491 262.5 533 H264.3 Q227.4 491 264.3 449Z" fill="#9ab4b9"/>
<path d="M264 449 Q227.1 491 264 533 H265.9 Q228.9 491 265.9 449Z" fill="#d4e3e3"/>
<path d="M264.6 449 Q229.6 491 264.6 533 H266.5 Q231.5 491 266.5 449Z" fill="#1c1c26"/>
<path d="M266.2 449 Q231.2 491 266.2 533 H268 Q233 491 268 449Z" fill="#464660"/>
<path d="M267.7 449 Q232.7 491 267.7 533 H269.6 Q234.6 491 269.6 449Z" fill="#707a8f"/>
<path d="M269.3 449 Q234.3 491 269.3 533 H271.2 Q236.1 491 271.2 449Z" fill="#9ab4b9"/>
<path d="M270.9 449 Q235.8 491 270.9 533 H272.7 Q237.7 491 272.7 449Z" fill="#d4e3e3"/>
<path d="M271.5 449 Q238.4 491 271.5 533 H273.4 Q240.3 491 273.4 449Z" fill="#1c1c26"/>
<path d="M273.1 449 Q240 491 273.1 533 H275 Q241.9 491 275 449Z" fill="#464660"/>
<path d="M274.7 449 Q241.6 491 274.7 533 H276.6 Q243.5 491 276.6 449Z" fill="#707a8f"/>
<path d="M276.3 449 Q243.2 491 276.3 533 H278.2 Q245.1 491 278.2 449Z" fill="#9ab4b9"/>
<path d="M277.9 449 Q244.8 491 277.9 533 H279.8 Q246.7 491 279.8 449Z" fill="#d4e3e3"/>
<path d="M278.5 449 Q247.4 491 278.5 533 H280.4 Q249.3 491 280.4 449Z" fill="#1c1c26"/>
<path d="M280.1 449 Q249 491 280.1 533 H282.1 Q251 491 282.1 449Z" fill="#464660"/>
<path d="M281.8 449 Q250.7 491 281.8 533 H283.7 Q252.6 491 283.7 449Z" fill="#707a8f"/>
<path d="M283.4 449 Q252.3 491 283.4 533 H285.4 Q254.3 491 285.4 449Z" fill="#9ab4b9"/>
<path d="M285.1 449 Q254 491 285.1 533 H287 Q255.9 491 287 449Z" fill="#d4e3e3"/>
<path d="M285.7 449 Q256.7 491 285.7 533 H287.7 Q258.7 491 287.7 449Z" fill="#1c1c26"/>
<path d="M287.4 449 Q258.4 491 287.4 533 H289.4 Q260.4 491 289.4 449Z" fill="#464660"/>
<path d="M289.1 449 Q260.1 491 289.1 533 H291.1 Q262.1 491 291.1 449Z" fill="#707a8f"/>
<path d="M290.8 449 Q261.8 491 290.8 533 H292.8 Q263.8 491 292.8 449Z" fill="#9ab4b9"/>
<path d="M292.5 449 Q263.5 491 292.5 533 H294.5 Q265.5 491 294.5 449Z" fill="#d4e3e3"/>
<path d="M293.1 449 Q266.2 491 293.1 533 H295.2 Q268.3 491 295.2 449Z" fill="#1c1c26"/>
<path d="M294.9 449 Q268 491 294.9 533 H296.9 Q270 491 296.9 449Z" fill="#464660"/>
<path d="M296.6 449 Q269.7 491 296.6 533 H298.7 Q271.8 491 298.7 449Z" fill="#707a8f"/>
<path d="M298.4 449 Q271.5 491 298.4 533 H300.5 Q273.6 491 300.5 449Z" fill="#9ab4b9"/>
<path d="M300.2 449 Q273.3 491 300.2 533 H302.2 Q275.3 491 302.2 449Z" fill="#d4e3e3"/>
<path d="M300.8 449 Q276.1 491 300.8 533 H302.9 Q278.2 491 302.9 449Z" fill="#1c1c26"/>
<path d="M302.6 449 Q277.9 491 302.6 533 H304.8 Q280 491 304.8 449Z" fill="#464660"/>
<path d="M304.5 449 Q279.7 491 304.5 533 H306.6 Q281.9 491 306.6 449Z" fill="#707a8f"/>
<path d="M306.3 449 Q281.6 491 306.3 533 H308.4 Q283.7 491 308.4 449Z" fill="#9ab4b9"/>
<path d="M308.1 449 Q283.4 491 308.1 533 H310.2 Q285.5 491 310.2 449Z" fill="#d4e3e3"/>
<path d="M308.8 449 Q286.3 491 308.8 533 H311 Q288.5 491 311 449Z" fill="#1c1c26"/>
<path d="M310.7 449 Q288.2 491 310.7 533 H312.9 Q290.4 491 312.9 449Z" fill="#464660"/>
<path d="M312.6 449 Q290.1 491 312.6 533 H314.8 Q292.3 491 314.8 449Z" fill="#707a8f"/>
<path d="M314.5 449 Q292 491 314.5 533 H316.7 Q294.2 491 316.7 449Z" fill="#9ab4b9"/>
<path d="M316.4 449 Q293.9 491 316.4 533 H318.6 Q296.1 491 318.6 449Z" fill="#d4e3e3"/>
<path d="M317.1 449 Q297 491 317.1 533 H319.4 Q299.3 491 319.4 449Z" fill="#1c1c26"/>
<path d="M319.1 449 Q299 491 319.1 533 H321.3 Q301.3 491 321.3 449Z" fill="#464660"/>
<path d="M321 449 Q301 491 321 533 H323.3 Q303.2 491 323.3 449Z" fill="#707a8f"/>
<path d="M323 449 Q302.9 491 323 533 H325.3 Q305.2 491 325.3 449Z" fill="#9ab4b9"/>
<path d="M325 449 Q304.9 491 325 533 H327.3 Q307.2 491 327.3 449Z" fill="#d4e3e3"/>
<path d="M325.7 449 Q308.1 491 325.7 533 H328.1 Q310.5 491 328.1 449Z" fill="#1c1c26"/>
<path d="M327.8 449 Q310.2 491 327.8 533 H330.2 Q312.6 491 330.2 449Z" fill="#464660"/>
<path d="M329.9 449 Q312.3 491 329.9 533 H332.3 Q314.6 491 332.3 449Z" fill="#707a8f"/>
<path d="M332 449 Q314.3 491 332 533 H334.3 Q316.7 491 334.3 449Z" fill="#9ab4b9"/>
<path d="M334 449 Q316.4 491 334 533 H336.4 Q318.8 491 336.4 449Z" fill="#d4e3e3"/>
<path d="M334.8 449 Q319.8 491 334.8 533 H337.3 Q322.2 491 337.3 449Z" fill="#1c1c26"/>
<path d="M337 449 Q321.9 491 337 533 H339.5 Q324.4 491 339.5 449Z" fill="#464660"/>
<path d="M339.2 449 Q324.1 491 339.2 533 H341.6 Q326.6 491 341.6 449Z" fill="#707a8f"/>
<path d="M341.3 449 Q326.3 491 341.3 533 H343.8 Q328.8 491 343.8 449Z" fill="#9ab4b9"/>
<path d="M343.5 449 Q328.5 491 343.5 533 H346 Q330.9 491 346 449Z" fill="#d4e3e3"/>
<path d="M344.3 449 Q332 491 344.3 533 H346.9 Q334.6 491 346.9 449Z" fill="#1c1c26"/>
<path d="M346.6 449 Q334.3 491 346.6 533 H349.2 Q336.9 491 349.2 449Z" fill="#464660"/>
<path d="M348.9 449 Q336.6 491 348.9 533 H351.5 Q339.2 491 351.5 449Z" fill="#707a8f"/>
<path d="M351.2 449 Q338.9 491 351.2 533 H353.8 Q341.5 491 353.8 449Z" fill="#9ab4b9"/>
<path d="M353.5 449 Q341.2 491 353.5 533 H356.1 Q343.8 491 356.1 449Z" fill="#d4e3e3"/>
<path d="M354.4 449 Q344.9 491 354.4 533 H356.2 Q346.7 491 356.2 449Z" fill="#14141b"/>
<path d="M355.9 449 Q346.4 491 355.9 533 H357.7 Q348.2 491 357.7 449Z" fill="#2e2e40"/>
<path d="M357.4 449 Q347.9 491 357.4 533 H359.2 Q349.7 491 359.2 449Z" fill="#484864"/>
<path d="M358.9 449 Q349.4 491 358.9 533 H360.7 Q351.2 491 360.7 449Z" fill="#626882"/>
<path d="M360.4 449 Q350.9 491 360.4 533 H362.2 Q352.8 491 362.2 449Z" fill="#7d8c9d"/>
<path d="M361.9 449 Q352.5 491 361.9 533 H363.7 Q354.3 491 363.7 449Z" fill="#97b0b7"/>
<path d="M363.4 449 Q354 491 363.4 533 H365.3 Q355.8 491 365.3 449Z" fill="#b7d1d1"/>
<path d="M365 449 Q355.5 491 365 533 H366.8 Q357.3 491 366.8 449Z" fill="#e0ebeb"/>
<path d="M365 449 Q358.5 491 365 533 H366.9 Q360.4 491 366.9 449Z" fill="#14141b"/>
<path d="M366.6 449 Q360.1 491 366.6 533 H368.5 Q362 491 368.5 449Z" fill="#2e2e40"/>
<path d="M368.2 449 Q361.7 491 368.2 533 H370.1 Q363.6 491 370.1 449Z" fill="#484864"/>
<path d="M369.8 449 Q363.3 491 369.8 533 H371.7 Q365.3 491 371.7 449Z" fill="#626882"/>
<path d="M371.4 449 Q365 491 371.4 533 H373.3 Q366.9 491 373.3 449Z" fill="#7d8c9d"/>
<path d="M373 449 Q366.6 491 373 533 H374.9 Q368.5 491 374.9 449Z" fill="#97b0b7"/>
<path d="M374.6 449 Q368.2 491 374.6 533 H376.5 Q370.1 491 376.5 449Z" fill="#b7d1d1"/>
<path d="M376.2 449 Q369.8 491 376.2 533 H378.1 Q371.7 491 378.1 449Z" fill="#e0ebeb"/>
<path d="M376.2 449 Q373 491 376.2 533 H378.3 Q375 491 378.3 449Z" fill="#14141b"/>
<path d="M378 449 Q374.7 491 378 533 H380 Q376.7 491 380 449Z" fill="#2e2e40"/>
<path d="M379.7 449 Q376.4 491 379.7 533 H381.7 Q378.5 491 381.7 449Z" fill="#484864"/>
<path d="M381.4 449 Q378.2 491 381.4 533 H383.4 Q380.2 491 383.4 449Z" fill="#626882"/>
<path d="M383.1 449 Q379.9 491 383.1 533 H385.1 Q381.9 491 385.1 449Z" fill="#7d8c9d"/>
<path d="M384.8 449 Q381.6 491 384.8 533 H386.8 Q383.6 491 386.8 449Z" fill="#97b0b7"/>
<path d="M386.5 449 Q383.3 491 386.5 533 H388.6 Q385.3 491 388.6 449Z" fill="#b7d1d1"/>
<path d="M388.3 449 Q385 491 388.3 533 H390.3 Q387 491 390.3 449Z" fill="#e0ebeb"/>
<path d="M388.3 449 Q388.5 491 388.3 533 H390.4 Q390.6 491 390.4 449Z" fill="#14141b"/>
<path d="M390.1 449 Q390.3 491 390.1 533 H392.3 Q392.4 491 392.3 449Z" fill="#2e2e40"/>
<path d="M392 449 Q392.1 491 392 533 H394.1 Q394.3 491 394.1 449Z" fill="#484864"/>
<path d="M393.8 449 Q394 491 393.8 533 H395.9 Q396.1 491 395.9 449Z" fill="#626882"/>
<path d="M395.6 449 Q395.8 491 395.6 533 H397.8 Q398 491 397.8 449Z" fill="#7d8c9d"/>
<path d="M397.5 449 Q397.7 491 397.5 533 H399.6 Q399.8 491 399.6 449Z" fill="#97b0b7"/>
<path d="M399.3 449 Q399.5 491 399.3 533 H401.5 Q401.6 491 401.5 449Z" fill="#b7d1d1"/>
<path d="M401.2 449 Q401.3 491 401.2 533 H403.3 Q403.5 491 403.3 449Z" fill="#e0ebeb"/>
<path d="M401.2 449 Q405 491 401.2 533 H403.4 Q407.3 491 403.4 449Z" fill="#14141b"/>
<path d="M403.1 449 Q407 491 403.1 533 H405.4 Q409.3 491 405.4 449Z" fill="#2e2e40"/>
<path d="M405.1 449 Q409 491 405.1 533 H407.4 Q411.3 491 407.4 449Z" fill="#484864"/>
<path d="M407.1 449 Q411 491 407.1 533 H409.4 Q413.2 491 409.4 449Z" fill="#626882"/>
<path d="M409.1 449 Q412.9 491 409.1 533 H411.4 Q415.2 491 411.4 449Z" fill="#7d8c9d"/>
<path d="M411.1 449 Q414.9 491 411.1 533 H413.3 Q417.2 491 413.3 449Z" fill="#97b0b7"/>
<path d="M413 449 Q416.9 491 413 533 H415.3 Q419.2 491 415.3 449Z" fill="#b7d1d1"/>
<path d="M415 449 Q418.9 491 415 533 H417.3 Q421.2 491 417.3 449Z" fill="#e0ebeb"/>
<path d="M415 449 Q422.8 491 415 533 H417.5 Q425.3 491 417.5 449Z" fill="#14141b"/>
<path d="M417.2 449 Q425 491 417.2 533 H419.6 Q427.4 491 419.6 449Z" fill="#2e2e40"/>
<path d="M419.3 449 Q427.1 491 419.3 533 H421.8 Q429.6 491 421.8 449Z" fill="#484864"/>
<path d="M421.5 449 Q429.3 491 421.5 533 H423.9 Q431.7 491 423.9 449Z" fill="#626882"/>
<path d="M423.6 449 Q431.4 491 423.6 533 H426 Q433.8 491 426 449Z" fill="#7d8c9d"/>
<path d="M425.7 449 Q433.5 491 425.7 533 H428.2 Q436 491 428.2 449Z" fill="#97b0b7"/>
<path d="M427.9 449 Q435.7 491 427.9 533 H430.3 Q438.1 491 430.3 449Z" fill="#b7d1d1"/>
<path d="M430 449 Q437.8 491 430 533 H432.5 Q440.3 491 432.5 449Z" fill="#e0ebeb"/>
<path d="M430 449 Q442.1 491 430 533 H432.7 Q444.7 491 432.7 449Z" fill="#14141b"/>
<path d="M432.4 449 Q444.4 491 432.4 533 H435 Q447.1 491 435 449Z" fill="#2e2e40"/>
<path d="M434.7 449 Q446.8 491 434.7 533 H437.3 Q449.4 491 437.3 449Z" fill="#484864"/>
<path d="M437 449 Q449.1 491 437 533 H439.6 Q451.7 491 439.6 449Z" fill="#626882"/>
<path d="M439.3 449 Q451.4 491 439.3 533 H442 Q454 491 442 449Z" fill="#7d8c9d"/>
<path d="M441.7 449 Q453.7 491 441.7 533 H444.3 Q456.4 491 444.3 449Z" fill="#97b0b7"/>
<path d="M444 449 Q456.1 491 444 533 H446.6 Q458.7 491 446.6 449Z" fill="#b7d1d1"/>
<path d="M446.3 449 Q458.4 491 446.3 533 H449 Q461 491 449 449Z" fill="#e0ebeb"/>
<path d="M446.3 449 Q463.1 491 446.3 533 H448.5 Q465.2 491 448.5 449Z" fill="#101016"/>
<path d="M448.2 449 Q464.9 491 448.2 533 H450.3 Q467.1 491 450.3 449Z" fill="#232331"/>
<path d="M450 449 Q466.8 491 450 533 H452.2 Q468.9 491 452.2 449Z" fill="#36364b"/>
<path d="M451.9 449 Q468.6 491 451.9 533 H454.1 Q470.8 491 454.1 449Z" fill="#494965"/>
<path d="M453.8 449 Q470.5 491 453.8 533 H455.9 Q472.6 491 455.9 449Z" fill="#5c607c"/>
<path d="M455.6 449 Q472.3 491 455.6 533 H457.8 Q474.5 491 457.8 449Z" fill="#707a8f"/>
<path d="M457.5 449 Q474.2 491 457.5 533 H459.6 Q476.3 491 459.6 449Z" fill="#8395a3"/>
<path d="M459.3 449 Q476 491 459.3 533 H461.5 Q478.2 491 461.5 449Z" fill="#96afb6"/>
<path d="M461.2 449 Q477.9 491 461.2 533 H463.3 Q480 491 463.3 449Z" fill="#aac9c9"/>
<path d="M463 449 Q479.7 491 463 533 H465.2 Q481.9 491 465.2 449Z" fill="#c8dcdc"/>
<path d="M464.9 449 Q481.6 491 464.9 533 H467 Q483.7 491 467 449Z" fill="#e5efef"/>
<path d="M464.2 449 Q486 491 464.2 533 H466.5 Q488.3 491 466.5 449Z" fill="#101016"/>
<path d="M466.2 449 Q488 491 466.2 533 H468.6 Q490.4 491 468.6 449Z" fill="#232331"/>
<path d="M468.3 449 Q490.1 491 468.3 533 H470.6 Q492.4 491 470.6 449Z" fill="#36364b"/>
<path d="M470.3 449 Q492.1 491 470.3 533 H472.6 Q494.4 491 472.6 449Z" fill="#494965"/>
<path d="M472.3 449 Q494.1 491 472.3 533 H474.7 Q496.5 491 474.7 449Z" fill="#5c607c"/>
<path d="M474.4 449 Q496.2 491 474.4 533 H476.7 Q498.5 491 476.7 449Z" fill="#707a8f"/>
<path d="M476.4 449 Q498.2 491 476.4 533 H478.8 Q500.6 491 478.8 449Z" fill="#8395a3"/>
<path d="M478.5 449 Q500.3 491 478.5 533 H480.8 Q502.6 491 480.8 449Z" fill="#96afb6"/>
<path d="M480.5 449 Q502.3 491 480.5 533 H482.8 Q504.6 491 482.8 449Z" fill="#aac9c9"/>
<path d="M482.5 449 Q504.3 491 482.5 533 H484.9 Q506.7 491 484.9 449Z" fill="#c8dcdc"/>
<path d="M484.6 449 Q506.4 491 484.6 533 H486.9 Q508.7 491 486.9 449Z" fill="#e5efef"/>
<path d="M483.8 449 Q511.2 491 483.8 533 H486.4 Q513.8 491 486.4 449Z" fill="#101016"/>
<path d="M486.1 449 Q513.5 491 486.1 533 H488.6 Q516 491 488.6 449Z" fill="#232331"/>
<path d="M488.3 449 Q515.7 491 488.3 533 H490.9 Q518.3 491 490.9 449Z" fill="#36364b"/>
<path d="M490.6 449 Q518 491 490.6 533 H493.2 Q520.6 491 493.2 449Z" fill="#494965"/>
<path d="M492.9 449 Q520.3 491 492.9 533 H495.4 Q522.8 491 495.4 449Z" fill="#5c607c"/>
<path d="M495.1 449 Q522.5 491 495.1 533 H497.7 Q525.1 491 497.7 449Z" fill="#707a8f"/>
<path d="M497.4 449 Q524.8 491 497.4 533 H500 Q527.3 491 500 449Z" fill="#8395a3"/>
<path d="M499.7 449 Q527 491 499.7 533 H502.2 Q529.6 491 502.2 449Z" fill="#96afb6"/>
<path d="M501.9 449 Q529.3 491 501.9 533 H504.5 Q531.9 491 504.5 449Z" fill="#aac9c9"/>
<path d="M504.2 449 Q531.6 491 504.2 533 H506.7 Q534.1 491 506.7 449Z" fill="#c8dcdc"/>
<path d="M506.4 449 Q533.8 491 506.4 533 H509 Q536.4 491 509 449Z" fill="#e5efef"/>
<path d="M506.4 449 Q538.4 491 506.4 533 H509.1 Q541.1 491 509.1 449Z" fill="#101016"/>
<path d="M508.8 449 Q540.8 491 508.8 533 H511.6 Q543.6 491 511.6 449Z" fill="#232331"/>
<path d="M511.3 449 Q543.3 491 511.3 533 H514.1 Q546.1 491 514.1 449Z" fill="#36364b"/>
<path d="M513.8 449 Q545.8 491 513.8 533 H516.5 Q548.5 491 516.5 449Z" fill="#494965"/>
<path d="M516.2 449 Q548.2 491 516.2 533 H519 Q551 491 519 449Z" fill="#5c607c"/>
<path d="M518.7 449 Q550.7 491 518.7 533 H521.4 Q553.4 491 521.4 449Z" fill="#707a8f"/>
<path d="M521.1 449 Q553.1 491 521.1 533 H523.9 Q555.9 491 523.9 449Z" fill="#8395a3"/>
<path d="M523.6 449 Q555.6 491 523.6 533 H526.3 Q558.3 491 526.3 449Z" fill="#96afb6"/>
<path d="M526 449 Q558 491 526 533 H528.8 Q560.8 491 528.8 449Z" fill="#aac9c9"/>
<path d="M528.5 449 Q560.5 491 528.5 533 H531.2 Q563.2 491 531.2 449Z" fill="#c8dcdc"/>
<path d="M530.9 449 Q562.9 491 530.9 533 H533.7 Q565.7 491 533.7 449Z" fill="#e5efef"/>
</g></g>
</g>
<g clip-path="url(#cc)">
<rect x="94" y="649" width="505" height="204" fill="#4638ee"/>
<rect x="94" y="649" width="83" height="204" filter="url(#pa)"/>
<rect x="176.6" y="649" width="340" height="40" filter="url(#pb)"/>
<rect x="176.6" y="750" width="340" height="103" filter="url(#pb)"/>
<filter id="bl3" x="-0.1" y="-0.2" width="1.2" height="1.4"><feGaussianBlur stdDeviation="5 2.5"/></filter><mask id="cdw" maskUnits="userSpaceOnUse" x="170" y="660" width="360" height="110"><path d="M177 708 L183 704.6 L189 701.5 L195 698.7 L201 696.1 L207 693.8 L213 691.8 L219 689.9 L225 688.2 L231 686.6 L237 685.2 L243 684 L249 682.8 L255 681.8 L261 680.9 L267 680 L273 679.3 L279 678.6 L285 678 L291 677.4 L297 676.9 L303 676.4 L309 676 L315 675.6 L321 675.3 L327 675 L333 674.7 L339 674.4 L345 674.2 L351 674 L357 673.8 L363 673.6 L369 673.5 L375 673.3 L381 673.2 L387 673.1 L393 673 L399 672.9 L405 672.8 L411 672.7 L417 672.7 L423 672.6 L429 672.5 L435 672.5 L441 672.4 L447 672.4 L453 672.4 L459 672.3 L465 672.3 L471 672.3 L477 672.2 L483 672.2 L489 672.2 L495 672.2 L501 672.2 L507 672.1 L513 672.1 L516.5 672.1 L516.5 753.9 L513 753.9 L507 753.9 L501 753.9 L495 753.9 L489 753.9 L483 753.9 L477 753.9 L471 753.9 L465 753.9 L459 753.8 L453 753.8 L447 753.8 L441 753.8 L435 753.8 L429 753.7 L423 753.7 L417 753.7 L411 753.6 L405 753.6 L399 753.6 L393 753.5 L387 753.5 L381 753.4 L375 753.3 L369 753.3 L363 753.2 L357 753.1 L351 753 L345 752.9 L339 752.8 L333 752.7 L327 752.5 L321 752.4 L315 752.2 L309 752 L303 751.8 L297 751.6 L291 751.3 L285 751 L279 750.7 L273 750.4 L267 750 L261 749.6 L255 749.1 L249 748.6 L243 748 L237 747.4 L231 746.7 L225 745.9 L219 745.1 L213 744.1 L207 743.1 L201 741.9 L195 740.7 L189 739.3 L183 737.7 L177 736Z" fill="#fff" filter="url(#bl3)"/></mask>
<rect x="176.6" y="680" width="340" height="80" filter="url(#pb)"/>
<linearGradient id="gw" gradientUnits="userSpaceOnUse" x1="330" y1="0" x2="516" y2="0"><stop offset="0" stop-color="#5468fa" stop-opacity="0"/><stop offset="0.6" stop-color="#5468fa" stop-opacity="0.45"/><stop offset="1" stop-color="#5a74fa" stop-opacity="0.7"/></linearGradient>
<g mask="url(#cdw)"><rect x="176.6" y="670" width="340" height="90" filter="url(#pd)"/><rect x="330" y="670" width="187" height="90" fill="url(#gw)"/>
<g fill="none" stroke="#3a2cd2" stroke-opacity="0.55" stroke-width="2.2">
<path d="M373.8 680 Q410.2 719 373.8 758"/>
<path d="M389 680 Q424.9 719 389 758"/>
<path d="M405.5 680 Q440.8 719 405.5 758"/>
<path d="M423.3 680 Q458 719 423.3 758"/>
<path d="M442.7 680 Q476.7 719 442.7 758"/>
<path d="M463.9 680 Q497.2 719 463.9 758"/>
<path d="M487.4 680 Q519.8 719 487.4 758"/>
</g></g>
<rect x="515.9" y="649" width="84" height="204" filter="url(#pe)"/>
</g>
<g stroke="#333" fill="none">
<path d="M179.7 426.3 v5 M179.7 632.8 v-5 M263.9 426.3 v5 M263.9 632.8 v-5 M262.7 648.6 v5 M262.7 853.5 v-5 M348.1 426.3 v5 M348.1 632.8 v-5 M432.3 426.3 v5 M432.3 632.8 v-5 M431.1 648.6 v5 M431.1 853.5 v-5 M516.5 426.3 v5 M516.5 632.8 v-5 M94.2 460.3 h6 M600.2 460.3 h-6 M94.2 494.6 h6 M600.2 494.6 h-6 M93.2 716.4 h6 M598.9 716.4 h-6 M94.2 529 h6 M600.2 529 h-6 M94.2 563.3 h6 M600.2 563.3 h-6 M93.2 784.7 h6 M598.9 784.7 h-6 M94.2 597.6 h6 M600.2 597.6 h-6" stroke-width="3"/>
<rect x="94.2" y="426.3" width="506" height="206.5" stroke-width="3.4"/>
<rect x="93.2" y="648.6" width="505.7" height="204.9" stroke-width="3.4"/>
</g>
<path d="M176.6 425.8 V865.8 M515.9 425.8 V865.8" stroke="#000" stroke-width="5" stroke-dasharray="15.2 11.35" fill="none"/>
<text x="89.3" y="467.3" font-size="23" textLength="27.2" lengthAdjust="spacingAndGlyphs" text-anchor="end" fill="#2e2e2e" stroke="#2e2e2e" stroke-width="0.3">50</text>
<text x="88.1" y="689.2" font-size="23" textLength="27.2" lengthAdjust="spacingAndGlyphs" text-anchor="end" fill="#2e2e2e" stroke="#2e2e2e" stroke-width="0.3">50</text>
<text x="89.3" y="501.6" font-size="23" textLength="40.4" lengthAdjust="spacingAndGlyphs" text-anchor="end" fill="#2e2e2e" stroke="#2e2e2e" stroke-width="0.3">100</text>
<text x="88.1" y="723.4" font-size="23" textLength="40.4" lengthAdjust="spacingAndGlyphs" text-anchor="end" fill="#2e2e2e" stroke="#2e2e2e" stroke-width="0.3">100</text>
<text x="89.3" y="536" font-size="23" textLength="40.4" lengthAdjust="spacingAndGlyphs" text-anchor="end" fill="#2e2e2e" stroke="#2e2e2e" stroke-width="0.3">150</text>
<text x="88.1" y="757.6" font-size="23" textLength="40.4" lengthAdjust="spacingAndGlyphs" text-anchor="end" fill="#2e2e2e" stroke="#2e2e2e" stroke-width="0.3">150</text>
<text x="89.3" y="570.3" font-size="23" textLength="41.4" lengthAdjust="spacingAndGlyphs" text-anchor="end" fill="#2e2e2e" stroke="#2e2e2e" stroke-width="0.3">200</text>
<text x="88.1" y="791.7" font-size="23" textLength="41.4" lengthAdjust="spacingAndGlyphs" text-anchor="end" fill="#2e2e2e" stroke="#2e2e2e" stroke-width="0.3">200</text>
<text x="89.3" y="604.6" font-size="23" textLength="41.4" lengthAdjust="spacingAndGlyphs" text-anchor="end" fill="#2e2e2e" stroke="#2e2e2e" stroke-width="0.3">250</text>
<text x="88.1" y="825.9" font-size="23" textLength="41.4" lengthAdjust="spacingAndGlyphs" text-anchor="end" fill="#2e2e2e" stroke="#2e2e2e" stroke-width="0.3">250</text>
<text x="89.3" y="639" font-size="23" textLength="41.4" lengthAdjust="spacingAndGlyphs" text-anchor="end" fill="#2e2e2e" stroke="#2e2e2e" stroke-width="0.3">300</text>
<text x="88.1" y="860.1" font-size="23" textLength="41.4" lengthAdjust="spacingAndGlyphs" text-anchor="end" fill="#2e2e2e" stroke="#2e2e2e" stroke-width="0.3">300</text>
<text x="95.8" y="887.6" font-size="23" textLength="13" lengthAdjust="spacingAndGlyphs" text-anchor="middle" fill="#2e2e2e" stroke="#2e2e2e" stroke-width="0.3">0</text>
<text x="180" y="887.6" font-size="23" textLength="13" lengthAdjust="spacingAndGlyphs" text-anchor="middle" fill="#2e2e2e" stroke="#2e2e2e" stroke-width="0.3">1</text>
<text x="264.2" y="887.6" font-size="23" textLength="13" lengthAdjust="spacingAndGlyphs" text-anchor="middle" fill="#2e2e2e" stroke="#2e2e2e" stroke-width="0.3">2</text>
<text x="348.4" y="887.6" font-size="23" textLength="13" lengthAdjust="spacingAndGlyphs" text-anchor="middle" fill="#2e2e2e" stroke="#2e2e2e" stroke-width="0.3">3</text>
<text x="432.6" y="887.6" font-size="23" textLength="13" lengthAdjust="spacingAndGlyphs" text-anchor="middle" fill="#2e2e2e" stroke="#2e2e2e" stroke-width="0.3">4</text>
<text x="516.8" y="887.6" font-size="23" textLength="13" lengthAdjust="spacingAndGlyphs" text-anchor="middle" fill="#2e2e2e" stroke="#2e2e2e" stroke-width="0.3">5</text>
<text x="601" y="887.6" font-size="23" textLength="13" lengthAdjust="spacingAndGlyphs" text-anchor="middle" fill="#2e2e2e" stroke="#2e2e2e" stroke-width="0.3">6</text>
<text transform="translate(43 535) rotate(-90)" x="0" y="0" font-size="28.5" textLength="75" lengthAdjust="spacingAndGlyphs" text-anchor="middle" fill="#2e2e2e" stroke="#2e2e2e" stroke-width="0.3">nodes</text>
<text transform="translate(43 756) rotate(-90)" x="0" y="0" font-size="28.5" textLength="75" lengthAdjust="spacingAndGlyphs" text-anchor="middle" fill="#2e2e2e" stroke="#2e2e2e" stroke-width="0.3">nodes</text>
<text x="315" y="912" font-size="28" textLength="93" lengthAdjust="spacingAndGlyphs" fill="#2e2e2e" stroke="#2e2e2e" stroke-width="0.3">time (s)</text>
<text x="246.5" y="391.5" font-size="27" textLength="208.5" lengthAdjust="spacingAndGlyphs" fill="#2e2e2e" stroke="#2e2e2e" stroke-width="0.3">cv-NN Dynamics</text>
<text x="131.5" y="409" font-size="27.5" textLength="83" lengthAdjust="spacingAndGlyphs" fill="#2e2e2e" stroke="#2e2e2e" stroke-width="0.3">input 1</text>
<text x="485.5" y="409" font-size="27.5" textLength="84" lengthAdjust="spacingAndGlyphs" fill="#2e2e2e" stroke="#2e2e2e" stroke-width="0.3">input 2</text>
<rect x="616.5" y="440.5" width="13.5" height="178" fill="url(#gb)" stroke="#777" stroke-width="0.8"/>
<rect x="616.5" y="655.3" width="13.5" height="178" fill="url(#gp)" stroke="#777" stroke-width="0.8"/>
<text x="637" y="449.3" font-size="21" fill="#2e2e2e" font-family='"Liberation Serif", serif' font-style="italic">π</text>
<text x="636" y="626.5" font-size="22" fill="#2e2e2e" stroke="#2e2e2e" stroke-width="0.3">-</text>
<text x="645" y="626.8" font-size="21" fill="#2e2e2e" font-family='"Liberation Serif", serif' font-style="italic">π</text>
<text transform="translate(654 527) rotate(-90)" x="0" y="0" font-size="19.5" textLength="111.5" lengthAdjust="spacingAndGlyphs" text-anchor="middle" fill="#2e2e2e" stroke="#2e2e2e" stroke-width="0.3">phase (rad)</text>
<text x="636.3" y="682.8" font-size="22" textLength="12" lengthAdjust="spacingAndGlyphs" fill="#2e2e2e" stroke="#2e2e2e" stroke-width="0.3">7</text>
<text x="635.8" y="841.5" font-size="22" textLength="12.4" lengthAdjust="spacingAndGlyphs" fill="#2e2e2e" stroke="#2e2e2e" stroke-width="0.3">0</text>
<text transform="translate(652 753.5) rotate(-90)" x="0" y="0" font-size="19.5" textLength="94.5" lengthAdjust="spacingAndGlyphs" text-anchor="middle" fill="#2e2e2e" stroke="#2e2e2e" stroke-width="0.3">amplitude</text>
<path d="M242.6 925.3 L244.2 925.6 L247.3 926.3 L251.2 927.1 L255.7 928.2 L260.4 929.5 L265.1 930.9 L269.9 932.4 L274.5 934.1 L278.9 935.9 L283.1 937.9 L287 940 L290.8 942.2 L294.2 944.5 L297.5 946.9 L300.5 949.4 L303.3 952 L305.9 954.7 L308.3 957.6 L310.5 960.5 L312.6 963.5 L314.5 966.6 L316.3 969.8 L318 973 L319.6 976.4 L321 979.9 L322.4 983.4 L323.7 987 L324.9 990.7 L326 994.5 L327 998.3 L328 1002.3 L328.9 1006.3 L329.8 1010.4 L330.6 1014.5 L331.4 1018.8 L332.1 1023.1 L332.8 1027.5 L333.5 1031.9 L334.1 1036.4 L334.7 1041 L335.2 1045.7 L335.7 1050.4 L336.2 1055.2 L336.7 1060.1 L337.2 1065 L337.6 1070 L338 1075.1 L338.4 1080.2 L338.8 1085.4 L339.2 1090.7 L339.5 1096 L339.8 1101.4 L340.1 1106.8 L340.4 1112.4 L340.7 1117.9 L341 1123.6 L341.3 1129.3 L341.5 1135 L341.8 1140.8 L342 1146.7 L360.9 1146.7 L361.1 1140.8 L361.4 1135 L361.6 1129.3 L361.9 1123.6 L362.1 1117.9 L362.4 1112.4 L362.7 1106.8 L363 1101.4 L363.3 1096 L363.7 1090.7 L364 1085.4 L364.4 1080.2 L364.8 1075.1 L365.2 1070 L365.6 1065 L366 1060.1 L366.5 1055.2 L367 1050.4 L367.5 1045.7 L368 1041 L368.6 1036.4 L369.2 1031.9 L369.8 1027.5 L370.5 1023.1 L371.2 1018.8 L371.9 1014.5 L372.7 1010.4 L373.5 1006.3 L374.4 1002.3 L375.3 998.3 L376.3 994.5 L377.4 990.7 L378.5 987 L379.7 983.4 L381 979.9 L382.4 976.4 L383.8 973 L385.4 969.8 L387.1 966.6 L388.9 963.5 L390.8 960.5 L392.9 957.6 L395.1 954.7 L397.4 952 L400 949.4 L402.7 946.9 L405.6 944.5 L408.7 942.2 L412 940 L415.5 937.9 L419.2 935.9 L423.1 934.1 L427.1 932.4 L431.2 930.9 L435.3 929.5 L439.3 928.2 L443.1 927.1 L446.4 926.3 L449.1 925.6 L450.4 925.3 Z" fill="#808080"/>
<g stroke="#333" fill="none">
<path d="M94.3 949.9 h6.5 M610.7 949.9 h-6.5 M94.3 999.1 h6.5 M610.7 999.1 h-6.5 M94.3 1048.3 h6.5 M610.7 1048.3 h-6.5 M94.3 1097.5 h6.5 M610.7 1097.5 h-6.5 M352.3 925.5 v5.5 M352.3 1145.6 v-5.5" stroke-width="3"/>
<rect x="94.3" y="925.5" width="516.4" height="220.1" stroke-width="3.4"/>
</g>
<text x="87" y="958.3" font-size="23" textLength="12.6" lengthAdjust="spacingAndGlyphs" text-anchor="end" fill="#2e2e2e" stroke="#2e2e2e" stroke-width="0.3">2</text>
<text x="87" y="1007.5" font-size="23" textLength="12.6" lengthAdjust="spacingAndGlyphs" text-anchor="end" fill="#2e2e2e" stroke="#2e2e2e" stroke-width="0.3">4</text>
<text x="87" y="1056.7" font-size="23" textLength="12.6" lengthAdjust="spacingAndGlyphs" text-anchor="end" fill="#2e2e2e" stroke="#2e2e2e" stroke-width="0.3">6</text>
<text x="87" y="1105.9" font-size="23" textLength="12.6" lengthAdjust="spacingAndGlyphs" text-anchor="end" fill="#2e2e2e" stroke="#2e2e2e" stroke-width="0.3">8</text>
<text x="87" y="1155.1" font-size="23" textLength="25.6" lengthAdjust="spacingAndGlyphs" text-anchor="end" fill="#2e2e2e" stroke="#2e2e2e" stroke-width="0.3">10</text>
<text x="93.4" y="1174.8" font-size="23" textLength="12.4" lengthAdjust="spacingAndGlyphs" text-anchor="middle" fill="#2e2e2e" stroke="#2e2e2e" stroke-width="0.3">0</text>
<text x="335" y="1175.4" font-size="21" textLength="12" lengthAdjust="spacingAndGlyphs" fill="#2e2e2e" font-family='"Liberation Serif", serif' font-style="italic">π</text>
<text x="347" y="1175.4" font-size="18.5" textLength="21.5" lengthAdjust="spacingAndGlyphs" fill="#2e2e2e" stroke="#2e2e2e" stroke-width="0.3">/2</text>
<text x="604.5" y="1176" font-size="23" fill="#2e2e2e" font-family='"Liberation Serif", serif' font-style="italic">π</text>
<text x="351.5" y="1206" font-size="27" text-anchor="middle" fill="#2e2e2e" font-family='"Liberation Serif", serif' font-style="italic">ϕ</text>
<text transform="translate(50 1143) rotate(-90)" x="0" y="0" font-size="24" fill="#2e2e2e" font-family='"Liberation Serif", serif' font-style="italic">τ</text>
<text transform="translate(50 1126) rotate(-90)" x="0" y="0" font-size="25.5" textLength="196" lengthAdjust="spacingAndGlyphs" fill="#2e2e2e" stroke="#2e2e2e" stroke-width="0.3">time to target (s)</text>
<text x="344.5" y="973.6" font-size="26" textLength="17.5" lengthAdjust="spacingAndGlyphs" fill="#111" stroke="#111" stroke-width="0.3">A</text>
<text x="179.5" y="1064" font-size="26" textLength="37" lengthAdjust="spacingAndGlyphs" fill="#111" stroke="#111" stroke-width="0.3">NA</text>
<text x="486.5" y="1064" font-size="26" textLength="37" lengthAdjust="spacingAndGlyphs" fill="#111" stroke="#111" stroke-width="0.3">NA</text>
<rect x="637.3" y="907.3" width="24.5" height="22.5" fill="#808080" stroke="#000" stroke-width="2.6"/>
<rect x="638.3" y="1033.7" width="24.5" height="23" fill="#fff" stroke="#000" stroke-width="2.6"/>
<text transform="translate(645 935) rotate(90)" x="0" y="0" font-size="18.5" textLength="78.5" lengthAdjust="spacingAndGlyphs" fill="#2e2e2e" stroke="#2e2e2e" stroke-width="0.3">Achieved</text>
<text transform="translate(644 1061) rotate(90)" x="0" y="0" font-size="18.5" textLength="111.5" lengthAdjust="spacingAndGlyphs" fill="#2e2e2e" stroke="#2e2e2e" stroke-width="0.3">Not Achieved</text>
</svg></body></html>
